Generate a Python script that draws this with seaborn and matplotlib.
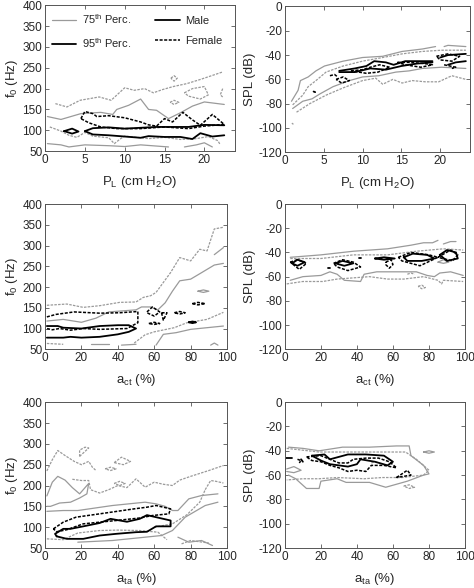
import numpy as np
import pandas as pd
import matplotlib
matplotlib.use("Agg")
import matplotlib.pyplot as plt
from matplotlib.lines import Line2D
import seaborn as sns

# contour lines, (x, y) points per segment
# panel 1: f0 vs P_L
pl_f0_m75 = [
    [(0.3, 133), (2, 126), (4.5, 140), (7, 143), (8.5, 138), (9, 150), (10.5, 160), (12, 175), (13, 150),
     (14, 148), (15.5, 128), (17, 142), (18.5, 158), (20, 168), (22.5, 162)],
    [(0.3, 68), (2, 65), (3, 60), (5, 65), (8, 63), (10, 61), (12, 65), (15.5, 60)],
    [(17.5, 60), (19, 65), (20, 70), (21, 60)],
]
pl_f0_f75 = [
    [(1.3, 164), (2.75, 156), (4.4, 172), (6.8, 180), (8.3, 172), (10, 202), (11.2, 196), (12.5, 200),
     (13.6, 190), (14.8, 198), (16.1, 205), (17.8, 212), (19.5, 222), (22.3, 240)],
    [(17.5, 190), (18.5, 200), (20, 205), (20.5, 185), (19.5, 175), (18, 182), (17.5, 190)],
    [(15.8, 225), (16.2, 231), (16.6, 225), (16.2, 218), (15.8, 225)],
    [(15.7, 167), (16.2, 172), (16.8, 167), (16.2, 162), (15.7, 167)],
    [(22.3, 200), (22, 185), (22.3, 180)],
    [(0.6, 108), (2, 98), (3, 88), (4, 83), (5, 95), (6, 86), (8, 82), (8.7, 68), (9.5, 80), (10, 86),
     (13, 80), (15, 83), (17, 78), (19, 80), (20.5, 85), (21.7, 75), (22, 65)],
]
pl_f0_m95 = [
    [(5, 98), (6, 105), (8, 107), (10, 104), (12, 106), (14, 108), (16, 108), (18, 108), (20, 113), (22.5, 112)],
    [(5, 98), (6, 90), (8, 88), (10, 85), (12, 82), (13, 86), (15, 84), (17, 84), (18.5, 79), (19.5, 93),
     (21, 85), (22.5, 88)],
    [(2.4, 98), (3.4, 104), (4.2, 97), (3.4, 92), (2.4, 98)],
]
pl_f0_f95 = [
    [(4.5, 128), (5, 145), (6, 140), (6.5, 133), (8, 135), (10, 130), (12, 120), (13, 113), (14, 110),
     (15, 128), (16, 120), (17.3, 143), (18.5, 125), (19.5, 112), (21, 138), (22.5, 114), (20, 110),
     (18, 104), (15, 108), (12, 104), (9, 104), (7, 108), (5.5, 118), (4.5, 128)],
]

# panel 2: SPL vs P_L
pl_spl_m75 = [
    [(0.85, -78), (1.7, -69), (2.0, -61), (3, -58), (4, -53), (5.1, -49), (7.5, -45), (10, -42),
     (12.6, -41), (15.1, -37), (17.7, -35), (19.4, -33)],
    [(20.5, -33), (21, -32), (23.3, -33)],
    [(1, -84), (2.3, -78), (3.5, -76), (4.5, -72), (6.2, -66), (8.3, -61), (10, -58), (12.1, -57),
     (14.3, -54), (16, -53), (17.7, -51), (20.2, -50), (23.3, -51)],
]
pl_spl_f75 = [
    [(1, -81), (2.3, -73), (3, -66), (4, -61), (5.3, -54), (7.5, -49), (10, -45), (12.6, -42),
     (15.1, -39), (17.7, -37), (20.2, -36), (23.3, -36)],
    [(1.5, -87), (3.2, -80), (5.3, -73), (7.5, -67), (10, -61), (11.7, -59), (12.6, -64), (13.9, -60),
     (15.1, -63), (16.4, -61), (18.1, -62), (19.8, -62), (21.5, -57), (23.3, -60)],
    [(0.9, -96), (1.1, -97)],
]
pl_spl_m95 = [
    [(7, -53), (9, -51), (10.5, -49), (11.5, -45), (13, -46), (14, -48), (15.5, -45), (17, -45), (19, -45)],
    [(7, -54), (9, -54), (11, -51), (13, -52), (15, -49), (17, -47), (19, -46)],
    [(20, -42), (21, -40), (23.3, -39)],
    [(21, -48), (22, -46), (23.3, -45)],
    [(3.7, -70), (3.9, -70.5)],
]
pl_spl_f95 = [
    [(8.5, -53), (10, -52), (11, -50), (12.2, -48), (13.5, -50), (12, -54), (10.5, -55), (8.5, -53)],
    [(14.5, -46), (16, -46), (18, -47), (19, -48), (17.5, -50), (15.5, -48), (14.5, -46)],
    [(6.6, -60), (7.5, -58), (8.3, -61), (7.3, -63), (6.6, -60)],
    [(19.5, -41), (21, -39), (22.5, -41), (21.5, -45), (20, -44), (19.5, -41)],
    [(20.5, -48), (22, -50), (21.5, -51)],
    [(5.8, -57), (6.4, -56), (6.8, -58)],
]

# panel 3: f0 vs a_ct
act_f0_m75 = [
    [(1, 118), (10, 122), (20, 115), (28, 125), (35, 140), (50, 145), (53, 152), (58, 152), (62, 145),
     (66, 162), (70, 190), (74, 215), (80, 219), (85, 232), (93, 253), (98, 257)],
    [(93, 278), (98, 295)],
    [(61, 60), (65, 86), (72, 90), (80, 98), (89, 102), (98, 106)],
    [(25, 62), (35, 62)],
    [(42, 60), (50, 62)],
    [(84, 190), (87, 193), (90, 190), (87, 187), (84, 190)],
    [(91, 60), (93, 65), (95, 60)],
]
act_f0_f75 = [
    [(1, 156), (12, 159), (21, 151), (30, 155), (41, 163), (50, 164), (54, 175), (58, 179), (61, 187),
     (69, 235), (74, 271), (80, 263), (85, 291), (89, 287), (93, 340), (98, 344)],
    [(49, 65), (55, 85), (60, 92), (71, 102), (78, 114), (89, 122), (98, 139)],
    [(1, 64), (10, 62)],
]
act_f0_m95 = [
    [(1, 106), (7, 106), (10, 102), (20, 100), (30, 106), (40, 108), (46, 108), (50, 100), (46, 92),
     (40, 86), (30, 80), (20, 78), (14, 80), (10, 78), (1, 78)],
    [(79, 115), (81, 117), (83, 115), (81, 113), (79, 115)],
]
act_f0_f95 = [
    [(1, 128), (6, 134), (16, 140), (30, 137), (41, 138), (51, 141), (51, 114), (45, 100), (30, 98),
     (21, 100), (14, 96), (8, 100), (4, 97), (1, 100)],
    [(56, 140), (59, 152), (63, 140), (60, 130), (56, 138), (56, 140)],
    [(64, 138), (67, 138), (65, 120), (64, 138)],
    [(57, 112), (60, 115), (63, 112), (60, 110), (57, 112)],
    [(71, 138), (74, 141), (77, 138), (74, 135), (71, 138)],
    [(81, 160), (84, 163), (88, 160), (84, 157), (81, 160)],
]

# panel 4: SPL vs a_ct
act_spl_m75 = [
    [(3, -44), (20, -42), (38, -39), (57, -37), (70, -34), (77, -32), (82, -32), (85, -30)],
    [(88, -33), (92, -31), (95, -31)],
    [(3, -63), (10, -60), (20, -59), (25, -56), (29, -58), (33, -63), (42, -64), (44, -58), (51, -56),
     (62, -56), (73, -56), (79, -59), (83, -60), (86, -57), (92, -56), (99, -59)],
    [(85, -48), (88, -46), (91, -48), (88, -49), (85, -48)],
]
act_spl_f75 = [
    [(3, -45), (20, -45), (38, -42), (57, -42), (73, -39), (88, -37), (99, -38)],
    [(1, -66), (10, -64), (21, -64), (29, -62), (38, -61), (47, -60), (57, -62), (66, -62), (77, -60),
     (85, -63), (87, -66), (88, -63), (99, -64)],
    [(74, -68), (76, -67), (78, -69), (76, -70), (74, -68)],
    [(68, -58), (70, -57), (72, -58)],
]
act_spl_m95 = [
    [(4, -49), (7, -46), (11, -48), (7, -51), (4, -49)],
    [(28, -49), (32, -47), (38, -49), (33, -51), (28, -49)],
    [(50, -45), (55, -44), (61, -45), (55, -46), (50, -45)],
    [(66, -44), (71, -41), (79, -42), (83, -45), (76, -47), (68, -47), (66, -44)],
    [(86, -42), (90, -38), (95, -40), (96, -45), (90, -47), (86, -42)],
    [(24, -53), (25, -53)],
    [(41, -45), (42, -45)],
]
act_spl_f95 = [
    [(3, -48), (7, -46), (12, -49), (8, -54), (3, -48)],
    [(27, -49), (32, -46), (38, -48), (42, -52), (35, -55), (29, -52), (27, -49)],
    [(56, -48), (59, -46), (60, -50), (58, -53), (56, -50), (56, -48)],
    [(63, -44), (70, -40), (80, -42), (85, -44), (75, -51), (65, -47), (63, -44)],
    [(85, -44), (92, -38), (96, -42), (93, -47), (85, -44)],
]

# panel 5: f0 vs a_ta
ata_f0_m75 = [
    [(1, 175), (4, 208), (7, 222), (11, 213), (15, 195), (19, 180), (22, 195), (24, 205), (23, 180),
     (19, 170), (14, 160), (8, 158), (3, 150), (1, 150)],
    [(1, 138), (10, 140), (18, 140), (37, 152), (55, 160), (61, 156), (66, 150), (70, 140), (73, 140),
     (79, 168), (86, 176), (95, 180)],
    [(18, 64), (37, 68), (55, 76), (64, 80), (70, 92), (77, 124), (88, 152), (95, 160)],
    [(73, 76), (79, 64), (86, 68), (92, 56)],
]
ata_f0_f75 = [
    [(1, 235), (4, 262), (7, 284), (11, 272), (16, 258), (20, 250), (24, 258), (26, 244), (28, 236)],
    [(15, 215), (20, 212), (24, 212), (25, 190), (30, 182), (35, 190), (40, 200), (45, 195), (50, 216),
     (55, 196), (60, 208), (65, 203), (70, 200), (74, 213), (80, 222), (90, 236), (98, 248)],
    [(88, 190), (91, 212), (94, 210), (98, 206)],
    [(1, 72), (10, 70), (18, 86), (30, 92), (40, 93), (52, 92), (62, 88), (67, 70)],
    [(60, 100), (70, 108), (78, 130), (85, 160), (88, 190)],
    [(75, 60), (80, 68), (90, 62)],
    [(19, 270), (22, 282), (24, 290), (22, 292), (19, 285), (19, 270)],
    [(33, 240), (36, 244), (39, 240), (36, 236), (33, 240)],
    [(38, 255), (42, 268), (47, 258), (43, 250), (38, 255)],
    [(38, 205), (41, 210), (44, 205), (41, 200), (38, 205)],
]
ata_f0_m95 = [
    [(6.4, 78), (12, 72), (21, 72), (30, 80), (39, 84), (50, 88), (56, 89), (61, 102), (69, 102),
     (69, 116), (61, 124), (56, 129), (52, 120), (45, 113), (36, 120), (30, 110), (21, 102), (14, 96),
     (10, 96), (5.5, 84), (6.4, 78)],
]
ata_f0_f95 = [
    [(4.6, 96), (10, 112), (17, 124), (30, 132), (49, 144), (56, 148), (61, 152), (69, 144), (68, 132),
     (59, 128), (52, 122), (39, 116), (30, 112), (21, 108), (12, 94), (6.4, 89), (4.6, 96)],
]

# panel 6: SPL vs a_ta
ata_spl_m75 = [
    [(2, -37), (10, -38), (19, -40), (32, -37), (47, -37), (62, -36), (69, -36), (70, -44), (77, -52),
     (80, -59), (77, -60), (68, -65), (56, -70), (47, -66), (34, -66), (29, -63), (20, -65), (19, -71),
     (12, -71), (6, -63), (2, -60)],
    [(1, -55), (5, -53), (9, -56), (5, -58), (1, -57)],
    [(77, -41), (80, -40), (83, -41), (80, -42), (77, -41)],
]
ata_spl_f75 = [
    [(1, -38), (19, -41), (38, -41), (56, -41), (67, -41), (73, -47), (80, -56), (77, -60), (65, -62),
     (54, -62), (44, -63), (29, -62), (19, -63), (10, -63), (1, -64)],
    [(66, -69), (69, -68), (72, -70), (69, -71), (66, -69)],
    [(48, -50), (50, -49), (52, -50)],
]
ata_spl_m95 = [
    [(15, -44), (22, -43), (25, -47), (30, -45), (35, -43), (45, -43), (55, -44), (60, -49), (57, -52),
     (50, -49), (42, -47), (40, -51), (35, -53), (30, -52), (25, -51), (20, -48), (15, -44)],
    [(0.5, -46), (4, -46)],
    [(9, -47), (10, -49)],
]
ata_spl_f95 = [
    [(12, -45), (20, -44), (30, -50), (35, -50), (38, -47), (45, -46), (52, -46), (58, -49), (62, -54),
     (55, -52), (48, -52), (45, -57), (40, -56), (35, -57), (30, -54), (25, -52), (20, -49), (15, -48),
     (12, -45)],
    [(62, -62), (68, -56), (70, -60), (62, -62)],
    [(7, -47), (9, -48), (8, -50)],
]

sns.set_style("ticks")
plt.rcParams["font.family"] = ["Liberation Sans", "DejaVu Sans"]
plt.rcParams["mathtext.default"] = "regular"
plt.rcParams["axes.unicode_minus"] = False
plt.rcParams["xtick.direction"] = "in"
plt.rcParams["ytick.direction"] = "in"

GRAY = "#9a9a9a"
DOT = (0, (2.0, 1.0))
styles = {
    "m75": dict(color=GRAY, lw=0.9, ls="-"),
    "f75": dict(color=GRAY, lw=0.9, ls=DOT),
    "m95": dict(color="black", lw=1.3, ls="-"),
    "f95": dict(color="black", lw=1.1, ls=DOT),
}

fig = plt.figure(figsize=(4.74, 5.88), dpi=100)
positions = [
    [0.095, 0.743, 0.400, 0.248], [0.601, 0.741, 0.390, 0.248],
    [0.095, 0.406, 0.384, 0.247], [0.601, 0.406, 0.380, 0.247],
    [0.095, 0.068, 0.384, 0.248], [0.601, 0.068, 0.380, 0.248],
]
panels = [
    (pl_f0_m75, pl_f0_f75, pl_f0_m95, pl_f0_f95),
    (pl_spl_m75, pl_spl_f75, pl_spl_m95, pl_spl_f95),
    (act_f0_m75, act_f0_f75, act_f0_m95, act_f0_f95),
    (act_spl_m75, act_spl_f75, act_spl_m95, act_spl_f95),
    (ata_f0_m75, ata_f0_f75, ata_f0_m95, ata_f0_f95),
    (ata_spl_m75, ata_spl_f75, ata_spl_m95, ata_spl_f95),
]
xlabels = [r"P$_L$ (cm H$_2$O)"] * 2 + [r"a$_{ct}$ (%)"] * 2 + [r"a$_{ta}$ (%)"] * 2

for i, (pos, groups) in enumerate(zip(positions, panels)):
    ax = fig.add_axes(pos)
    for key, segs in zip(["m75", "f75", "m95", "f95"], groups):
        st = styles[key]
        for seg in segs:
            d = pd.DataFrame(seg, columns=["x", "y"])
            sns.lineplot(data=d, x="x", y="y", sort=False, estimator=None, ax=ax,
                         color=st["color"], lw=st["lw"], linestyle=st["ls"])
    if i < 2:
        ax.set_xlim(0, 23.8)
        ax.set_xticks([0, 5, 10, 15, 20])
    else:
        ax.set_xlim(0, 100)
        ax.set_xticks([0, 20, 40, 60, 80, 100])
    if i % 2 == 0:
        ax.set_ylim(50, 400)
        ax.set_yticks(range(50, 401, 50))
        ax.set_ylabel(r"f$_0$ (Hz)", fontsize=9.5, labelpad=2)
    else:
        ax.set_ylim(-120, 0)
        ax.set_yticks(range(-120, 1, 20))
        ax.set_ylabel("SPL (dB)", fontsize=9.5, labelpad=2)
    ax.set_xlabel(xlabels[i], fontsize=9.5, labelpad=6)
    ax.tick_params(axis="both", labelsize=8.5, length=3, width=0.6, color="#555555",
                   top=True, right=True, pad=2)
    for sp in ax.spines.values():
        sp.set_linewidth(0.7)
        sp.set_color("#555555")

    if i == 0:
        handles = [
            Line2D([], [], color=GRAY, lw=0.9),
            Line2D([], [], color="black", lw=1.3),
            Line2D([], [], color="black", lw=1.3),
            Line2D([], [], color="black", lw=1.1, ls=DOT),
        ]
        labels = [r"75$^{th}$ Perc.", r"95$^{th}$ Perc.", "Male", "Female"]
        ax.legend(handles, labels, ncol=2, loc="upper left", frameon=False, fontsize=8,
                  handlelength=2.2, handletextpad=0.5, columnspacing=2.2, labelspacing=0.9,
                  borderaxespad=0.2)

fig.savefig("out.png", dpi=100)
